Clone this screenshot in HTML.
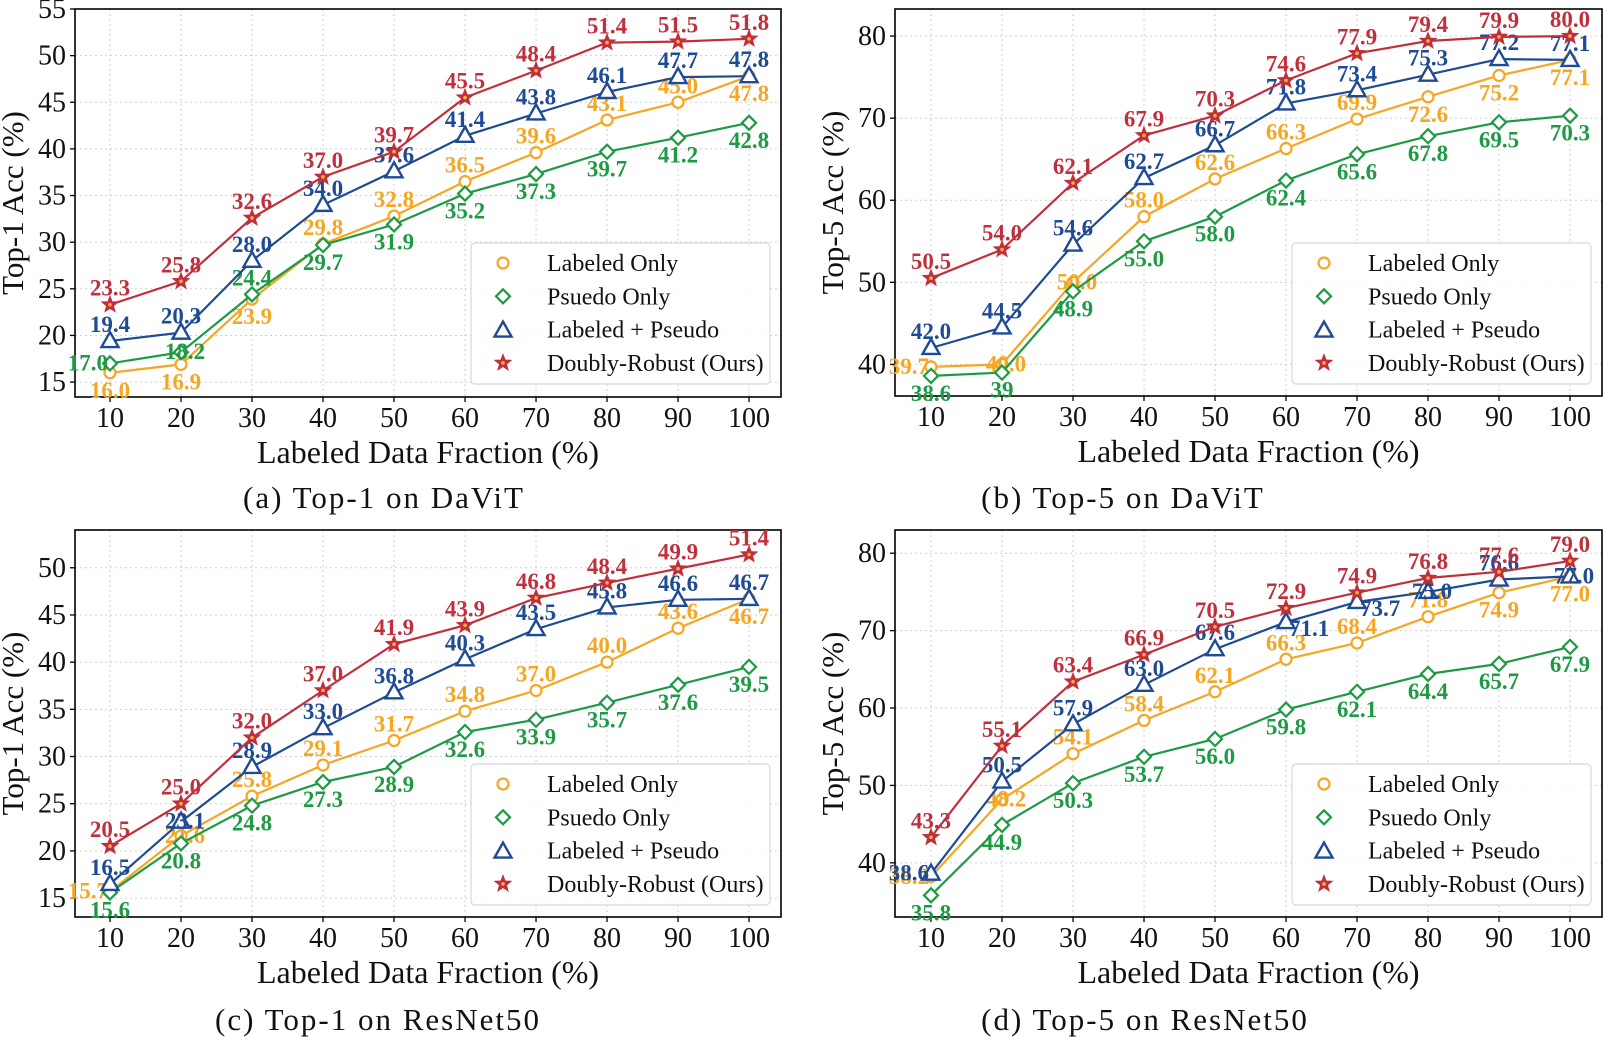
<!DOCTYPE html>
<html><head><meta charset="utf-8">
<style>
html,body{margin:0;padding:0;background:#fff;}
svg{display:block;font-family:"Liberation Serif",serif;}
</style></head>
<body>
<svg id="fig" width="1605" height="1037" viewBox="0 0 1605 1037" xmlns="http://www.w3.org/2000/svg"></svg>
<script>
const xCats = [10,20,30,40,50,60,70,80,90,100];
const seriesNames = ["Labeled Only","Psuedo Only","Labeled + Pseudo","Doubly-Robust (Ours)"];
// Panel (a) Top-1 DaViT
const aLabeled = [16.0,16.9,23.9,29.8,32.8,36.5,39.6,43.1,45.0,47.8];
const aPseudo  = [17.0,18.2,24.4,29.7,31.9,35.2,37.3,39.7,41.2,42.8];
const aBoth    = [19.4,20.3,28.0,34.0,37.6,41.4,43.8,46.1,47.7,47.8];
const aDR      = [23.3,25.8,32.6,37.0,39.7,45.5,48.4,51.4,51.5,51.8];
const aTicks   = [15,20,25,30,35,40,45,50,55];
// Panel (b) Top-5 DaViT
const bLabeled = [39.7,40.0,50.0,58.0,62.6,66.3,69.9,72.6,75.2,77.1];
const bPseudo  = [38.6,39,48.9,55.0,58.0,62.4,65.6,67.8,69.5,70.3];
const bBoth    = [42.0,44.5,54.6,62.7,66.7,71.8,73.4,75.3,77.2,77.1];
const bDR      = [50.5,54.0,62.1,67.9,70.3,74.6,77.9,79.4,79.9,80.0];
const bTicks   = [40,50,60,70,80];
// Panel (c) Top-1 ResNet50
const cLabeled = [15.7,21.6,25.8,29.1,31.7,34.8,37.0,40.0,43.6,46.7];
const cPseudo  = [15.6,20.8,24.8,27.3,28.9,32.6,33.9,35.7,37.6,39.5];
const cBoth    = [16.5,23.1,28.9,33.0,36.8,40.3,43.5,45.8,46.6,46.7];
const cDR      = [20.5,25.0,32.0,37.0,41.9,43.9,46.8,48.4,49.9,51.4];
const cTicks   = [15,20,25,30,35,40,45,50];
// Panel (d) Top-5 ResNet50
const dLabeled = [38.2,48.2,54.1,58.4,62.1,66.3,68.4,71.8,74.9,77.0];
const dPseudo  = [35.8,44.9,50.3,53.7,56.0,59.8,62.1,64.4,65.7,67.9];
const dBoth    = [38.6,50.5,57.9,63.0,67.6,71.1,73.7,75.0,76.6,77.0];
const dDR      = [43.3,55.1,63.4,66.9,70.5,72.9,74.9,76.8,77.6,79.0];
const dTicks   = [40,50,60,70,80];

const COLORS = ["#F5A623","#1E9A45","#1F4A94","#C0303C"];
const NS = "http://www.w3.org/2000/svg";
const svg = document.getElementById("fig");
function mk(tag, attrs, parent, text){
  const e = document.createElementNS(NS, tag);
  for (const k in attrs) e.setAttribute(k, attrs[k]);
  if (text !== undefined) e.textContent = text;
  (parent||svg).appendChild(e);
  return e;
}

const panels = [
  {id:"a", L:75,R:781,T:9,B:397, xmin:5.07,xmax:104.5, ymin:13.4,ymax:55.0, ticks:aTicks, ylab:"Top-1 Acc (%)", cap:"(a) Top-1 on DaViT", capX:384, capY:508,
   data:[aLabeled,aPseudo,aBoth,aDR], place:["bbbaaaaaab","lcabbbbbbb","aaaaaaaaaa","aaaaaaaaaa"]},
  {id:"b", L:895,R:1602,T:9,B:396, xmin:4.93,xmax:104.5, ymin:36.15,ymax:83.3, ticks:bTicks, ylab:"Top-5 Acc (%)", cap:"(b) Top-5 on DaViT", capX:1123, capY:508,
   data:[bLabeled,bPseudo,bBoth,bDR], place:["lccaaaabbb","bbbbbbbbbb","aaaaaaaaaa","aaaaaaaaaa"]},
  {id:"c", L:75,R:781,T:530,B:917, xmin:5.07,xmax:104.5, ymin:13.0,ymax:54.0, ticks:cTicks, ylab:"Top-1 Acc (%)", cap:"(c) Top-1 on ResNet50", capX:378, capY:1030,
   data:[cLabeled,cPseudo,cBoth,cDR], place:["lcaaaaaaab","bbbbbbbbbb","acaaaaaaaa","aaaaaaaaaa"]},
  {id:"d", L:895,R:1602,T:530,B:917, xmin:4.93,xmax:104.5, ymin:33.0,ymax:83.0, ticks:dTicks, ylab:"Top-5 Acc (%)", cap:"(d) Top-5 on ResNet50", capX:1145, capY:1030,
   data:[dLabeled,dPseudo,dBoth,dDR], place:["lcaaaaaabb","bbbbbbbbbb","laaaarrcac","aaaaaaaaaa"]}
];

function marker(g, k, x, y, c){
  let m;
  if (k===0) m = mk("circle",{cx:x,cy:y,r:5.5,fill:"#fff",stroke:c,"stroke-width":2.2},g);
  else if (k===1) m = mk("path",{d:`M${x} ${y-7}L${x+7} ${y}L${x} ${y+7}L${x-7} ${y}Z`,fill:"#fff",stroke:c,"stroke-width":2.2},g);
  else if (k===2) m = mk("path",{d:`M${x} ${y-9}L${x+8.5} ${y+6}L${x-8.5} ${y+6}Z`,fill:"#fff",stroke:c,"stroke-width":2.4},g);
  else {
    let d="";
    for(let i=0;i<10;i++){const r=i%2?3.6:8.5;const a=-Math.PI/2+i*Math.PI/5;d+=(i?"L":"M")+(x+r*Math.cos(a)).toFixed(1)+" "+(y+r*Math.sin(a)).toFixed(1);}
    m = mk("path",{d:d+"Z",fill:c,stroke:c,"stroke-width":1},g);
    mk("circle",{cx:x,cy:y,r:1.8,fill:"#F5B040"},g);
  }
  return m;
}

panels.forEach(p=>{
  const g = mk("g",{});
  
  
  const sx = v => p.L + (v-p.xmin)/(p.xmax-p.xmin)*(p.R-p.L);
  const sy = v => p.B - (v-p.ymin)/(p.ymax-p.ymin)*(p.B-p.T);
  xCats.forEach(v=>{ mk("line",{x1:sx(v),x2:sx(v),y1:p.T,y2:p.B,stroke:"#cfcfcf","stroke-width":1,"stroke-dasharray":"2,3"},g); });
  p.ticks.forEach(v=>{ mk("line",{x1:p.L,x2:p.R,y1:sy(v),y2:sy(v),stroke:"#cfcfcf","stroke-width":1,"stroke-dasharray":"2,3"},g); });
  const fr = mk("rect",{x:p.L,y:p.T,width:p.R-p.L,height:p.B-p.T,fill:"none",stroke:"#000","stroke-width":1.6},g);
  
  
  xCats.forEach(v=>{
    mk("line",{x1:sx(v),x2:sx(v),y1:p.B,y2:p.B+5,stroke:"#000","stroke-width":1.3},g);
    const t = mk("text",{x:sx(v),y:p.B+30,"text-anchor":"middle","font-size":28,fill:"#111"},g,String(v));
    
    
  });
  p.ticks.forEach(v=>{
    mk("line",{x1:p.L-5,x2:p.L,y1:sy(v),y2:sy(v),stroke:"#000","stroke-width":1.3},g);
    const t = mk("text",{x:p.L-9,y:sy(v)+9,"text-anchor":"end","font-size":28,fill:"#111"},g,String(v));
    
    
  });
  const xl = mk("text",{x:(p.L+p.R)/2,y:p.B+66,"text-anchor":"middle","font-size":32,fill:"#111"},g,"Labeled Data Fraction (%)");
  
  
  const yx = p.L-52, yc=(p.T+p.B)/2;
  const yl = mk("text",{x:yx,y:yc,"text-anchor":"middle","font-size":31,fill:"#111",transform:`rotate(-90 ${yx} ${yc})`},g,p.ylab);
  
  
  const cp = mk("text",{x:p.capX,y:p.capY,"text-anchor":"middle","font-size":31,"letter-spacing":2,fill:"#111"},g,p.cap);
  
  
  p.data.forEach((vals,k)=>{
    const c = COLORS[k];
    const sg = mk("g",{},g);
    
    
    const pts = vals.map((v,i)=>sx(xCats[i]).toFixed(1)+","+sy(v).toFixed(1)).join(" ");
    const ln = mk("polyline",{points:pts,fill:"none",stroke:c,"stroke-width":2.2},sg);
    
    
    vals.forEach((v,i)=>{
      const x=sx(xCats[i]), y=sy(v);
      const m = marker(sg,k,x,y,c);
      
      
      const pl = p.place[k][i];
      let tx=x, ty=y-9, anc="middle";
      if (pl==="b") ty=y+25;
      else if (pl==="l"){ tx=x-2; ty=y+7; anc="end"; }
      else if (pl==="r"){ tx=x+3; ty=y+14; anc="start"; }
      else if (pl==="c"){ ty=y+7; tx=x+4; }
      const lbl = mk("text",{x:tx,y:ty,"text-anchor":anc,"font-size":23,"font-weight":"bold",fill:c},sg,(String(v).includes(".")||v===39)?String(v):v.toFixed(1));
      
      
    });
  });
  const lx = p.R-310, ly = p.T+234;
  const lg = mk("g",{},g);
  
  
  mk("rect",{x:lx,y:ly,width:299,height:141,rx:4,fill:"#fff","fill-opacity":0.85,stroke:"#d8d8d8","stroke-width":1.2},lg);
  seriesNames.forEach((n,k)=>{
    const ry = ly+20+k*33.3;
    const ent = mk("g",{},lg);
    
    
    if(k===2) marker(ent,k,lx+32,ry+1,COLORS[k]); else marker(ent,k,lx+32,ry,COLORS[k]);
    mk("text",{x:lx+76,y:ry+8,"font-size":24,fill:"#111"},ent,n);
  });
});
</script>
</body></html>
